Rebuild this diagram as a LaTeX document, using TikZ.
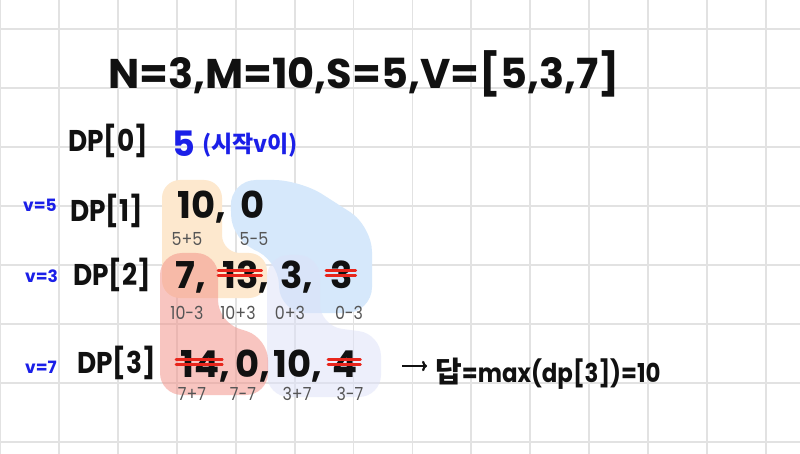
\documentclass[tikz,border=0pt]{standalone}
\usepackage{fontspec}
\usetikzlibrary{arrows.meta}
\setmainfont{Poppins}
\newfontfamily\narrowfont{Poppins}[FakeStretch=0.88]
\newfontfamily\krfont{Noto Sans CJK KR}
\definecolor{pen}{HTML}{111111}
\definecolor{bluepen}{HTML}{1B1FE8}
\definecolor{graypen}{HTML}{555555}
\definecolor{strike}{HTML}{E8261C}
\definecolor{gridgray}{HTML}{E2E2E2}
\definecolor{peach}{HTML}{FDE8CE}
\definecolor{skyblue}{HTML}{D6E8FB}
\definecolor{lilac}{HTML}{DDE1F9}
\definecolor{salmon}{HTML}{F38D83}
\tikzset{
  gridline/.style={draw=gridgray, line width=1.8pt},
  title/.style={font=\fontsize{41.5}{42}\selectfont\bfseries, text=pen, anchor=base west, inner sep=0pt},
  dplabel/.style={font=\narrowfont\fontsize{30}{30}\selectfont\bfseries, text=pen, anchor=base west, inner sep=0pt},
  vlabel/.style={font=\fontsize{17}{17}\selectfont\bfseries, text=bluepen, anchor=base west, inner sep=0pt},
  val/.style={font=\fontsize{37}{37}\selectfont\bfseries, text=pen, anchor=base west, inner sep=0pt},
  comma/.style={val, anchor=base west},
  sub/.style={font=\narrowfont\fontsize{18}{18}\selectfont, text=graypen, anchor=north, inner sep=0pt},
  cross/.style={draw=strike, line width=2.6pt, line cap=round},
}
\begin{document}
\begin{tikzpicture}[x=1pt,y=-1pt]
\useasboundingbox (0,0) rectangle (800,454);
\fill[white] (0,0) rectangle (800,454);
% grid paper
\foreach \i in {0,...,13}
  \path[gridline] (0.1+58.9*\i,0) -- ++(0,454);
\foreach \j in {0,...,7}
  \path[gridline] (0,29+59*\j) -- ++(800,0);
% highlighter marks
\fill[peach, rounded corners=18pt] (162,180) -- (222,180) -- (222,253) -- (267,253) -- (267,298) -- (162,298) -- cycle;
\fill[skyblue, rounded corners=26pt] (230,180) -- (300,180) -- (372,226) -- (372,313) -- (280,313) -- (278,258) -- (232,242) -- cycle;
\fill[lilac, opacity=0.5, rounded corners=22pt] (267,255) -- (320,255) -- (320,326) -- (381,334) -- (381,397) -- (267,397) -- cycle;
\fill[salmon, opacity=0.5, rounded corners=22pt] (160,253) -- (218,253) -- (218,322) -- (268,338) -- (268,395) -- (160,395) -- cycle;
% header
\node[title] (head) at (108,89) {N=3,M=10,S=5,V=[5,3,7]};
\node[dplabel] (dp0) at (68,152) {DP[0]};
\node[val, text=bluepen, font=\fontsize{35}{35}\selectfont\bfseries] (start) at (172,157) {5};
\node[anchor=base west, inner sep=0pt, text=bluepen, font=\krfont\fontsize{23}{23}\selectfont\bfseries] (startnote) at (202,153) {(시작v이)};
% DP[1]
\node[vlabel] (v1) at (23,212) {v=5};
\node[dplabel] (dp1) at (70,222) {DP[1]};
\node[val] (a1) at (177,219) {10};
\node[comma] (a1c) at (a1.base east) {,};
\node[val] (a2) at (240,219) {0};
\node[sub] (a1s) at (187,232) {5+5};
\node[sub] (a2s) at (254,232) {5-5};
% DP[2]
\node[vlabel] (v2) at (25,283) {v=3};
\node[dplabel] (dp2) at (73,285) {DP[2]};
\node[val] (b1) at (175,288) {7};
\node[comma] (b1c) at (b1.base east) {,};
\node[val] (b2) at (222,288) {13};
\node[comma] (b2c) at (b2.base east) {,};
\node[val] (b3) at (280,288) {3};
\node[comma] (b3c) at (b3.base east) {,};
\node[val] (b4) at (330,288) {3};
\node[sub] (b1s) at (187,306) {10-3};
\node[sub] (b2s) at (238,306) {10+3};
\node[sub] (b3s) at (290,306) {0+3};
\node[sub] (b4s) at (349,306) {0-3};
% DP[3]
\node[vlabel] (v3) at (25,373) {v=7};
\node[dplabel] (dp3) at (77,373) {DP[3]};
\node[val] (c1) at (180,377) {14};
\node[comma] (c1c) at (c1.base east) {,};
\node[val] (c2) at (235,377) {0};
\node[comma] (c2c) at (c2.base east) {,};
\node[val] (c3) at (273,377) {10};
\node[comma] (c3c) at (c3.base east) {,};
\node[val] (c4) at (332,377) {4};
\node[sub] (c1s) at (192,387) {7+7};
\node[sub] (c2s) at (243,387) {7-7};
\node[sub] (c3s) at (297,387) {3+7};
\node[sub] (c4s) at (350,387) {3-7};
% crossed out values
\foreach \n in {b2,b4,c1,c4} {
  \path[cross] ([xshift=-4pt,yshift=4pt]\n.west) -- ([xshift=3pt,yshift=4pt]\n.east);
  \path[cross] ([xshift=-4pt,yshift=-1pt]\n.west) -- ([xshift=3pt,yshift=-1pt]\n.east);
}
% answer
\node[anchor=base west, inner sep=0pt, text=pen, font=\narrowfont\fontsize{26}{26}\selectfont\bfseries] (ans) at (435,382) {{\krfont\fontsize{29}{29}\selectfont 답}=max(dp[3])=10};
\coordinate (arrowtail) at (402,366);
\draw[pen, line width=2.2pt, -{To[length=5pt]}, shorten >=8pt] (arrowtail) -- (arrowtail -| ans.west);
\end{tikzpicture}
\end{document}
